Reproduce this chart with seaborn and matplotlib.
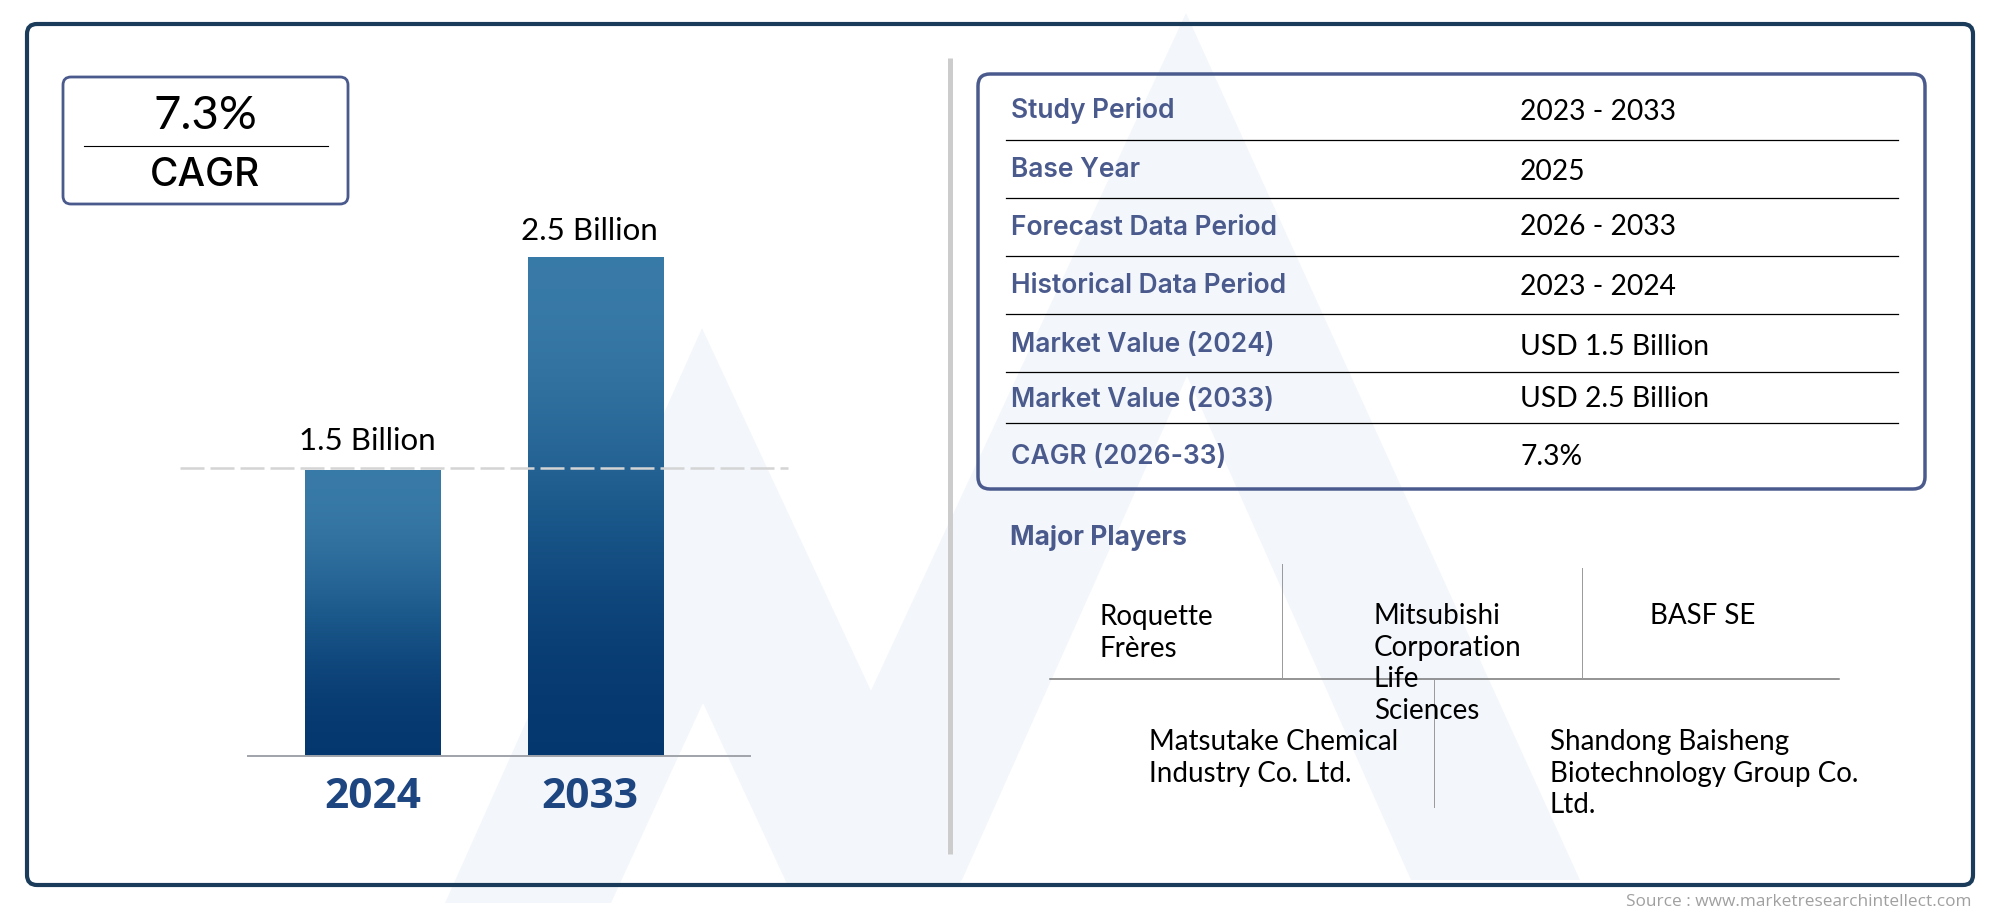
import pandas as pd
import matplotlib.pyplot as plt
from matplotlib.patches import FancyBboxPatch
import seaborn as sns


# Values typed from the picture (the drawn bars are not quite in scale with their labels)
data = pd.DataFrame({'Year': ['2024', '2033'],
                     'Value': [1.43, 2.5],
                     'Label': ['1.5 Billion', '2.5 Billion'],
                     'label_x': [367, 589],
                     'label_y': [441, 231],
                     'year_x': [373, 590]})

rows = pd.DataFrame({'Name': ['Study Period', 'Base Year', 'Forecast Data Period', 'Historical Data Period',
                              'Market Value (2024)', 'Market Value (2033)', 'CAGR (2026-33)'],
                     'Value': ['2023 - 2033', '2025', '2026 - 2033', '2023 - 2024',
                               'USD 1.5 Billion', 'USD 2.5 Billion', '7.3%'],
                     'name_y': [110, 170, 228, 286, 345, 400, 457],
                     'value_y': [112, 172, 227, 287, 347, 399, 457]})

players = [('Roquette\nFrères', 1099, 604),
           ('Mitsubishi\nCorporation\nLife\nSciences', 1374, 603),
           ('BASF SE', 1650, 603),
           ('Matsutake Chemical\nIndustry Co. Ltd.', 1149, 729),
           ('Shandong Baisheng\nBiotechnology Group Co.\nLtd.', 1550, 729)]

row_lines = [140, 198, 256, 314, 372, 423]
pale = '#f3f7fb'
slate = '#4a5a8c'


def plot_results(df):
    plt.figure(figsize=(20, 9.17), dpi=100)

    # Page axes in pixels, everything that is not a bar goes here
    plt.axes([0, 0, 1, 1])
    page = plt.gca()
    plt.xlim(0, 2000)
    plt.ylim(917, 0)
    plt.axis('off')

    # Watermark logo
    plt.fill([702, 445, 611, 703, 787, 961], [328, 903, 903, 703, 884, 884], color=pale, lw=0)
    plt.fill([1186, 1580, 1411, 1187, 962, 955, 868], [13, 880, 880, 376, 880, 884, 697], color=pale, lw=0)

    page.add_patch(FancyBboxPatch((27, 24), 1946, 861, boxstyle='round,pad=0,rounding_size=10',
                                  fc='none', ec='#1a3c5a', lw=3))
    page.add_patch(FancyBboxPatch((63, 77), 285, 127, boxstyle='round,pad=0,rounding_size=8',
                                  fc='none', ec=slate, lw=2))
    page.add_patch(FancyBboxPatch((978, 74), 947, 415, boxstyle='round,pad=0,rounding_size=12',
                                  fc='none', ec=slate, lw=2.5))

    plt.plot([950, 950], [58, 854], color='#cccccc', lw=3.6, solid_capstyle='butt')
    plt.plot([84, 328], [146, 146], color='black', lw=0.8)

    plt.text(205, 116, '7.3%', ha='center', va='center', fontsize=34, family='Lato')
    plt.text(205, 176, 'CAGR', ha='center', va='center', fontsize=28, family='Inter', weight='medium')

    # Table
    for y in row_lines:
        plt.plot([1006, 1898], [y, y], color='black', lw=0.9)
    for i, row in rows.iterrows():
        plt.text(1011, row['name_y'], row['Name'], ha='left', va='center', color=slate,
                 fontsize=19, family='Inter', weight='semibold')
        plt.text(1520, row['value_y'], row['Value'], ha='left', va='center', color='black',
                 fontsize=20.3, family='Lato')

    # Major players
    plt.text(1010, 538, 'Major Players', ha='left', va='center', color=slate,
             fontsize=19, family='Inter', weight='bold')
    plt.plot([1050, 1839], [679, 679], color='#777777', lw=1.1)
    plt.plot([1282, 1282], [564, 678], color='#999999', lw=0.7)
    plt.plot([1582, 1582], [568, 678], color='#999999', lw=0.7)
    plt.plot([1434, 1434], [680, 807], color='#999999', lw=0.7)
    for name, x, y in players:
        plt.text(x, y, name, ha='left', va='top', fontsize=20, family='Lato', linespacing=1.27)

    plt.text(1971, 902, 'Source : www.marketresearchintellect.com', ha='right', va='center',
             color='#a0a0a0', fontsize=12.4, family='Open Sans')

    for i, row in df.iterrows():
        plt.text(row['label_x'], row['label_y'], row['Label'], ha='center', va='center',
                 fontsize=22.5, family='Lato')
        plt.text(row['year_x'], 797, row['Year'], ha='center', va='center', color='#1d4580',
                 fontsize=30.5, family='Open Sans', weight='bold')

    # Bars, scale fixed so that 2.5 reaches the top of the tall bar
    plt.axes([248 / 2000, (917 - 756) / 917, 502 / 2000, 499.5 / 917])
    ax = plt.gca()
    ax.patch.set_alpha(0)
    sns.barplot(data=df, x='Year', y='Value', width=0.605, ax=ax)

    # Gradient fill clipped to each bar
    cmap = sns.blend_palette(['#3b7daa', '#1c5a8c', '#03356c'], as_cmap=True)
    for bar in list(ax.patches):
        x0, w, h = bar.get_x(), bar.get_width(), bar.get_height()
        bar.set_alpha(0)
        grad = ax.imshow([[0], [1]], cmap=cmap, aspect='auto', interpolation='bicubic',
                         extent=(x0, x0 + w, 0, h), origin='upper')
        grad.set_clip_path(bar)
    plt.xlim((248 - 372.5) / 223.5, (750 - 372.5) / 223.5)
    plt.ylim(0, 2.5)

    plt.axis('off')
    ax.plot([-0.557, 1.689], [0, 0], color='#a0a4aa', lw=1.4, clip_on=False)
    # Dashed reference line runs wider than the axes, light on the bars
    ax.plot([(180 - 372.5) / 223.5, (788 - 372.5) / 223.5], [1.44, 1.44], color='#d4d4d4', lw=1.8,
            dashes=(9.6, 2.4), clip_on=False)

    # Save the figure
    plt.savefig('out.png')
    plt.close()


plot_results(data)
